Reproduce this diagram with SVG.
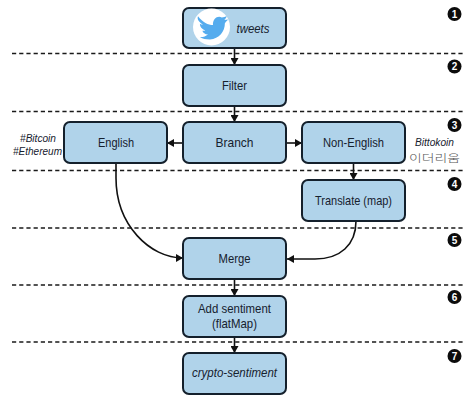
<svg xmlns="http://www.w3.org/2000/svg" width="474" height="402" viewBox="0 0 474 402">
<style>
.box{fill:#b0d3ea;stroke:#14202c;stroke-width:2}
.t{font-family:"Liberation Sans",Arial,sans-serif;font-size:13px;fill:#16212e;text-anchor:middle}
.i{font-style:italic}
.s{font-size:11.200px}
.d{stroke:#1a1a1a;stroke-width:1.400;stroke-dasharray:4.200 3;fill:none}
.c{stroke:#111;stroke-width:1.600;fill:none}
.n{fill:#0c0c0c}
.nt{font-family:"Liberation Sans",Arial,sans-serif;font-size:10px;font-weight:700;fill:#fff;text-anchor:middle}
</style>
<defs>
<marker id="a" markerUnits="userSpaceOnUse" markerWidth="8" markerHeight="8" refX="7" refY="4" orient="auto"><path d="M0 0L7 4L0 8Z" fill="#111"/></marker>
</defs>
<rect width="474" height="402" fill="#fff"/>
<g id="separators">
<path class="d" d="M12 53.500H465"/><path class="d" d="M12 111.500H465"/><path class="d" d="M12 170.500H465"/><path class="d" d="M12 228H465"/><path class="d" d="M12 285H465"/><path class="d" d="M12 342H465"/>
</g>
<g id="connectors">
<path class="c" marker-end="url(#a)" d="M234.500 48V65"/>
<path class="c" marker-end="url(#a)" d="M234.500 106V122"/>
<path class="c" marker-end="url(#a)" d="M183 143H167"/>
<path class="c" marker-end="url(#a)" d="M286 143H302"/>
<path class="c" marker-end="url(#a)" d="M353.500 163V180"/>
<path class="c" marker-end="url(#a)" d="M116 163V178C116 225 150 258 183 258"/>
<path class="c" marker-end="url(#a)" d="M356 221C356 245 340 259 315 259H287"/>
<path class="c" marker-end="url(#a)" d="M234.500 279V296"/>
<path class="c" marker-end="url(#a)" d="M234.500 337V353"/>
</g>
<g id="tweets">
<rect class="box" x="183" y="8" width="103" height="40" rx="6"/>
<circle cx="211.500" cy="27" r="18.500" fill="#fff"/>
<path transform="translate(-50.750 -7.500) scale(1.250)" fill="#55acee" d="M199 19C203 24 207 26 211 26C210.500 21 215 18 218 20C219.500 20 221 19 222 19C221.500 20.500 221 21 220 22C221 22 222 21.500 223 21.500C222 23 221 23.500 220.500 24.500C220.500 31 216 37 208.500 37.500C205 37.500 203 37 200.500 35.500C203 35.700 205 35 207 33.500C204.500 33.500 203 32 202.500 30.500C203.500 30.500 204 30.500 204.800 30.300C202 29.500 200.500 27.500 200.500 25C201.300 25.500 202 25.700 203 25.700C200 23.500 198 22 199 19Z"/>
<text class="t i" x="253" y="32.500" textLength="33" lengthAdjust="spacingAndGlyphs">tweets</text>
</g>
<g id="filter"><rect class="box" x="183" y="65" width="103" height="41" rx="6"/><text class="t" x="234.500" y="90" textLength="25" lengthAdjust="spacingAndGlyphs">Filter</text></g>
<g id="english"><rect class="box" x="64" y="122" width="103" height="41" rx="6"/><text class="t" x="116" y="147" textLength="36" lengthAdjust="spacingAndGlyphs">English</text></g>
<g id="branch"><rect class="box" x="183" y="122" width="103" height="41" rx="6"/><text class="t" x="234.500" y="147" textLength="38" lengthAdjust="spacingAndGlyphs">Branch</text></g>
<g id="non-english"><rect class="box" x="302" y="122" width="103" height="41" rx="6"/><text class="t" x="353.500" y="147" textLength="61" lengthAdjust="spacingAndGlyphs">Non-English</text></g>
<g id="translate"><rect class="box" x="302" y="180" width="103" height="41" rx="6"/><text class="t" x="353.500" y="205" textLength="77" lengthAdjust="spacingAndGlyphs">Translate (map)</text></g>
<g id="merge"><rect class="box" x="183" y="238" width="103" height="41" rx="6"/><text class="t" x="234.500" y="263" textLength="32" lengthAdjust="spacingAndGlyphs">Merge</text></g>
<g id="add-sentiment"><rect class="box" x="183" y="296" width="103" height="41" rx="6"/><text class="t" x="234.500" y="313" textLength="73" lengthAdjust="spacingAndGlyphs">Add sentiment</text><text class="t" x="234.500" y="328" textLength="45" lengthAdjust="spacingAndGlyphs">(flatMap)</text></g>
<g id="crypto-sentiment"><rect class="box" x="183" y="353" width="103" height="41" rx="6"/><text class="t i" x="234.500" y="377" textLength="85" lengthAdjust="spacingAndGlyphs">crypto-sentiment</text></g>
<g id="labels">
<text class="t i s" x="38" y="142" textLength="36" lengthAdjust="spacingAndGlyphs">#Bitcoin</text>
<text class="t i s" x="37.500" y="155" textLength="49" lengthAdjust="spacingAndGlyphs">#Ethereum</text>
<text class="t i s" x="434.500" y="146" textLength="39" lengthAdjust="spacingAndGlyphs">Bittokoin</text>
<text x="434.500" y="161.500" textLength="51" lengthAdjust="spacingAndGlyphs" style="font-family:'Noto Sans CJK KR',sans-serif;font-size:10.500px;font-weight:300;fill:#555;text-anchor:middle">이더리움</text>
</g>
<g id="callouts">
<circle class="n" cx="454.500" cy="14" r="7"/><text class="nt" x="454.500" y="17.500">1</text>
<circle class="n" cx="454.500" cy="66.500" r="7"/><text class="nt" x="454.500" y="70">2</text>
<circle class="n" cx="454.500" cy="125" r="7"/><text class="nt" x="454.500" y="128.500">3</text>
<circle class="n" cx="454.500" cy="184" r="7"/><text class="nt" x="454.500" y="187.500">4</text>
<circle class="n" cx="454.500" cy="240" r="7"/><text class="nt" x="454.500" y="243.500">5</text>
<circle class="n" cx="454.500" cy="297" r="7"/><text class="nt" x="454.500" y="300.500">6</text>
<circle class="n" cx="454.500" cy="356" r="7"/><text class="nt" x="454.500" y="359.500">7</text>
</g>
</svg>
